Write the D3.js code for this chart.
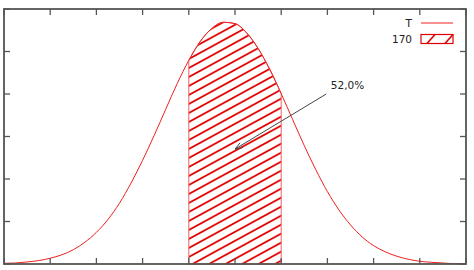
<!DOCTYPE html>
<html>
<head>
<meta charset="utf-8">
<script src="https://cdn.jsdelivr.net/npm/d3@7"></script>
<style>
  body { margin: 0; background: white; }
  text { font-family: "DejaVu Sans", "Liberation Sans", sans-serif; font-size: 10.5px; fill: #222; }
</style>
</head>
<body>
<svg></svg>
<script>
var w = 474;
var h = 270;

// density curve, one point per x unit
var xValues = d3.range(150, 191);
var yValues = [0.0002, 0.0003, 0.0006, 0.0010, 0.0017, 0.0027, 0.0042, 0.0064, 0.0093, 0.0131,
  0.0179, 0.0238, 0.0305, 0.0378, 0.0455, 0.0531, 0.0599, 0.0655, 0.0693, 0.0711,
  0.0707, 0.0680, 0.0634, 0.0573, 0.0501, 0.0424, 0.0348, 0.0277, 0.0213, 0.0159,
  0.0115, 0.0080, 0.0054, 0.0036, 0.0023, 0.0014, 0.0008, 0.0005, 0.0003, 0.0001, 0.0001];
var shadeRange = [166, 174];
var shareLabel = "52,0%";
var xTicks = d3.range(150, 191, 4);
var yTicks = [0, 0.0125, 0.025, 0.0375, 0.05, 0.0625, 0.075];
var legendNames = ["T", "170"];

var points = xValues.map(function (x, i) { return { x: x, y: yValues[i] }; });

var canvas = d3.select("svg")
  .attr("width", w)
  .attr("height", h)
  .style("background-color", "white");

var x = d3.scaleLinear().domain([150, 190]).range([4, 466]);
var y = d3.scaleLinear().domain([0, 0.075]).range([264, 9]);

// hatch pattern
var ph = 9, pw = 16.5;
var defs = canvas.append("defs");
var pat = defs.append("pattern")
  .attr("id", "hatch")
  .attr("patternUnits", "userSpaceOnUse")
  .attr("width", pw)
  .attr("height", ph);
[-pw, 0, pw].forEach(function (dx) {
  pat.append("line")
    .attr("x1", dx - pw).attr("y1", 2 * ph)
    .attr("x2", dx + 2 * pw).attr("y2", -ph)
    .attr("stroke", "#e00000")
    .attr("stroke-width", 1.8);
});

var shaded = points.filter(function (d) { return d.x >= shadeRange[0] && d.x <= shadeRange[1]; });

var area = d3.area()
  .x(function (d) { return x(d.x); })
  .y0(y(0))
  .y1(function (d) { return y(d.y); })
  .curve(d3.curveMonotoneX);

canvas.append("path")
  .datum(shaded)
  .attr("d", area)
  .attr("fill", "url(#hatch)")
  .attr("stroke", "#f06060")
  .attr("stroke-width", 1);

var line = d3.line()
  .x(function (d) { return x(d.x); })
  .y(function (d) { return y(d.y); })
  .curve(d3.curveMonotoneX);

canvas.append("path")
  .datum(points)
  .attr("d", line)
  .attr("fill", "none")
  .attr("stroke", "#ee2020")
  .attr("stroke-width", 1);

// frame and ticks (mirrored on all sides)
var axisColor = "#555";
var tl = 6;
var g = canvas.append("g").attr("stroke", axisColor).attr("stroke-width", 1.3);
xTicks.forEach(function (t) {
  g.append("line").attr("x1", x(t)).attr("x2", x(t)).attr("y1", y(0)).attr("y2", y(0) - tl);
  g.append("line").attr("x1", x(t)).attr("x2", x(t)).attr("y1", y(0.075)).attr("y2", y(0.075) + tl);
});
yTicks.forEach(function (t) {
  g.append("line").attr("x1", x(150)).attr("x2", x(150) + tl).attr("y1", y(t)).attr("y2", y(t));
  g.append("line").attr("x1", x(190)).attr("x2", x(190) - tl).attr("y1", y(t)).attr("y2", y(t));
});
canvas.append("rect")
  .attr("x", x(150)).attr("y", y(0.075))
  .attr("width", x(190) - x(150)).attr("height", y(0) - y(0.075))
  .attr("fill", "none")
  .attr("stroke", axisColor)
  .attr("stroke-width", 1.8);

// annotation with arrow
var from = [x(177.9), y(0.05)];
var to = [x(170), y(0.0338)];
canvas.append("line")
  .attr("x1", from[0]).attr("y1", from[1])
  .attr("x2", to[0]).attr("y2", to[1])
  .attr("stroke", "#444")
  .attr("stroke-width", 1);
var ang = Math.atan2(from[1] - to[1], from[0] - to[0]);
[-0.35, 0.35].forEach(function (a) {
  canvas.append("line")
    .attr("x1", to[0]).attr("y1", to[1])
    .attr("x2", to[0] + 8 * Math.cos(ang + a))
    .attr("y2", to[1] + 8 * Math.sin(ang + a))
    .attr("stroke", "#444")
    .attr("stroke-width", 1);
});
canvas.append("text")
  .attr("x", x(178.3))
  .attr("y", y(0.0515))
  .text(shareLabel);

// legend
var lg = canvas.append("g");
legendNames.forEach(function (name, i) {
  var ly = 23 + i * 16;
  lg.append("text")
    .attr("x", 412)
    .attr("y", ly + 4)
    .attr("text-anchor", "end")
    .text(name);
  if (i == 0) {
    lg.append("line")
      .attr("x1", 421).attr("x2", 453)
      .attr("y1", ly).attr("y2", ly)
      .attr("stroke", "#ee2020")
      .attr("stroke-width", 1);
  } else {
    lg.append("rect")
      .attr("x", 421).attr("y", ly - 4.5)
      .attr("width", 32).attr("height", 9)
      .attr("fill", "white")
      .attr("stroke", "#e00000")
      .attr("stroke-width", 1.2);
    [427, 445].forEach(function (sx) {
      lg.append("line")
        .attr("x1", sx).attr("y1", ly + 4.5)
        .attr("x2", sx + 8).attr("y2", ly - 4.5)
        .attr("stroke", "#e00000")
        .attr("stroke-width", 1.6);
    });
  }
});
</script>
</body>
</html>
